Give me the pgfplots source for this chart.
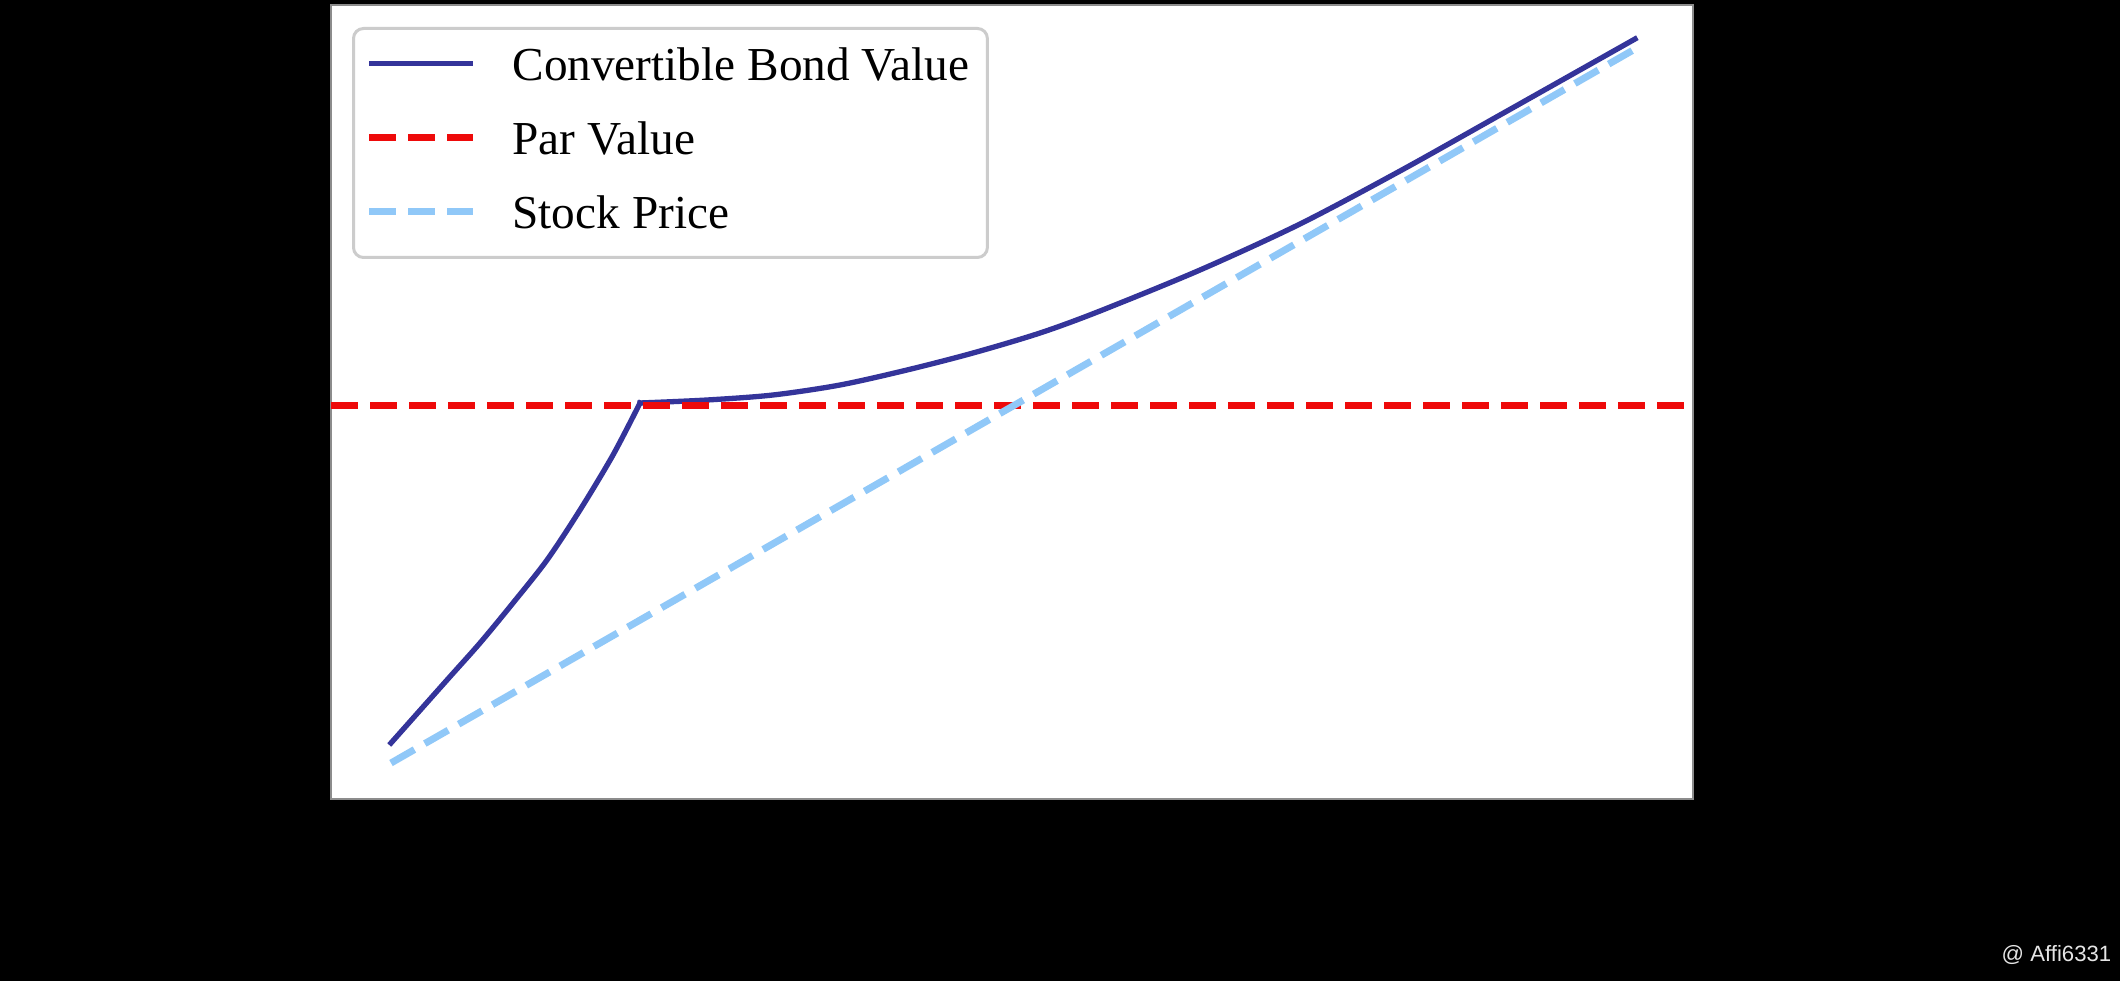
\documentclass[border=0pt]{standalone}
\usepackage{fontspec}
\setmainfont{Liberation Serif}
\newfontfamily\wmfont{Liberation Sans}
\usepackage{pgfplots}
\pgfplotsset{compat=1.18}
\definecolor{bondblue}{HTML}{34349A}
\definecolor{parred}{HTML}{EE0A0A}
\definecolor{stockblue}{HTML}{90C8F8}
\begin{document}
\begin{tikzpicture}[x=1mm,y=1mm]
\fill[black] (0,0) rectangle (212,98.1);
\begin{axis}[
  at={(33.1mm,18.2mm)}, anchor=south west, scale only axis,
  width=136.2mm, height=79.4mm,
  xmin=331, xmax=1693, ymin=182, ymax=976,
  xtick=\empty, ytick=\empty,
  axis background/.style={fill=white},
  axis line style={draw=black!45, line width=0.2mm},
  legend image code/.code={\draw[#1, line cap=butt] (0mm,0.55mm) -- (10.4mm,0.55mm);},
  legend cell align=left,
  legend style={at={(axis cs:352,954)}, anchor=north west,
    draw=black!20, line width=0.3mm, rounded corners=1mm, fill=white,
    font=\fontsize{13.45pt}{16pt}\selectfont,
    inner xsep=1.2mm, inner ysep=1.9mm,
    /tikz/row sep=3.1mm, /tikz/column sep=3.6mm,
    nodes={inner sep=0pt, text height=3.3mm, text depth=1.0mm}},
]
\addplot[bondblue, line width=0.53mm, line cap=rect, smooth, tension=0.5] coordinates {
(391,238) (447,301) (480,338) (513,378) (547,421) (580,471) (613,526) (640,578)};
\addlegendentry{Convertible Bond Value\hspace*{0.6mm}}
\addplot[forget plot, bondblue, line width=0.53mm, line cap=rect, smooth, tension=0.5] coordinates {
(640,578) (707,581) (773,586) (840,596) (907,611) (973,628) (1040,648) (1100,670)
(1200,711) (1300,757) (1400,810) (1500,866) (1635,942)};
\addplot[parred, line width=0.7mm, dash pattern=on 2.7mm off 1.2mm] coordinates {(331,575) (1693,575)};
\addlegendentry{Par Value}
\addplot[stockblue, line width=0.7mm, dash pattern=on 2.7mm off 1.2mm] coordinates {(391,218) (1635,932)};
\addlegendentry{Stock Price}
\end{axis}
\node[anchor=west, text=black!10, font=\wmfont\fontsize{6.3pt}{7pt}\selectfont, inner sep=0pt] at (200.1,2.6) {@ Affi6331};
\end{tikzpicture}
\end{document}
